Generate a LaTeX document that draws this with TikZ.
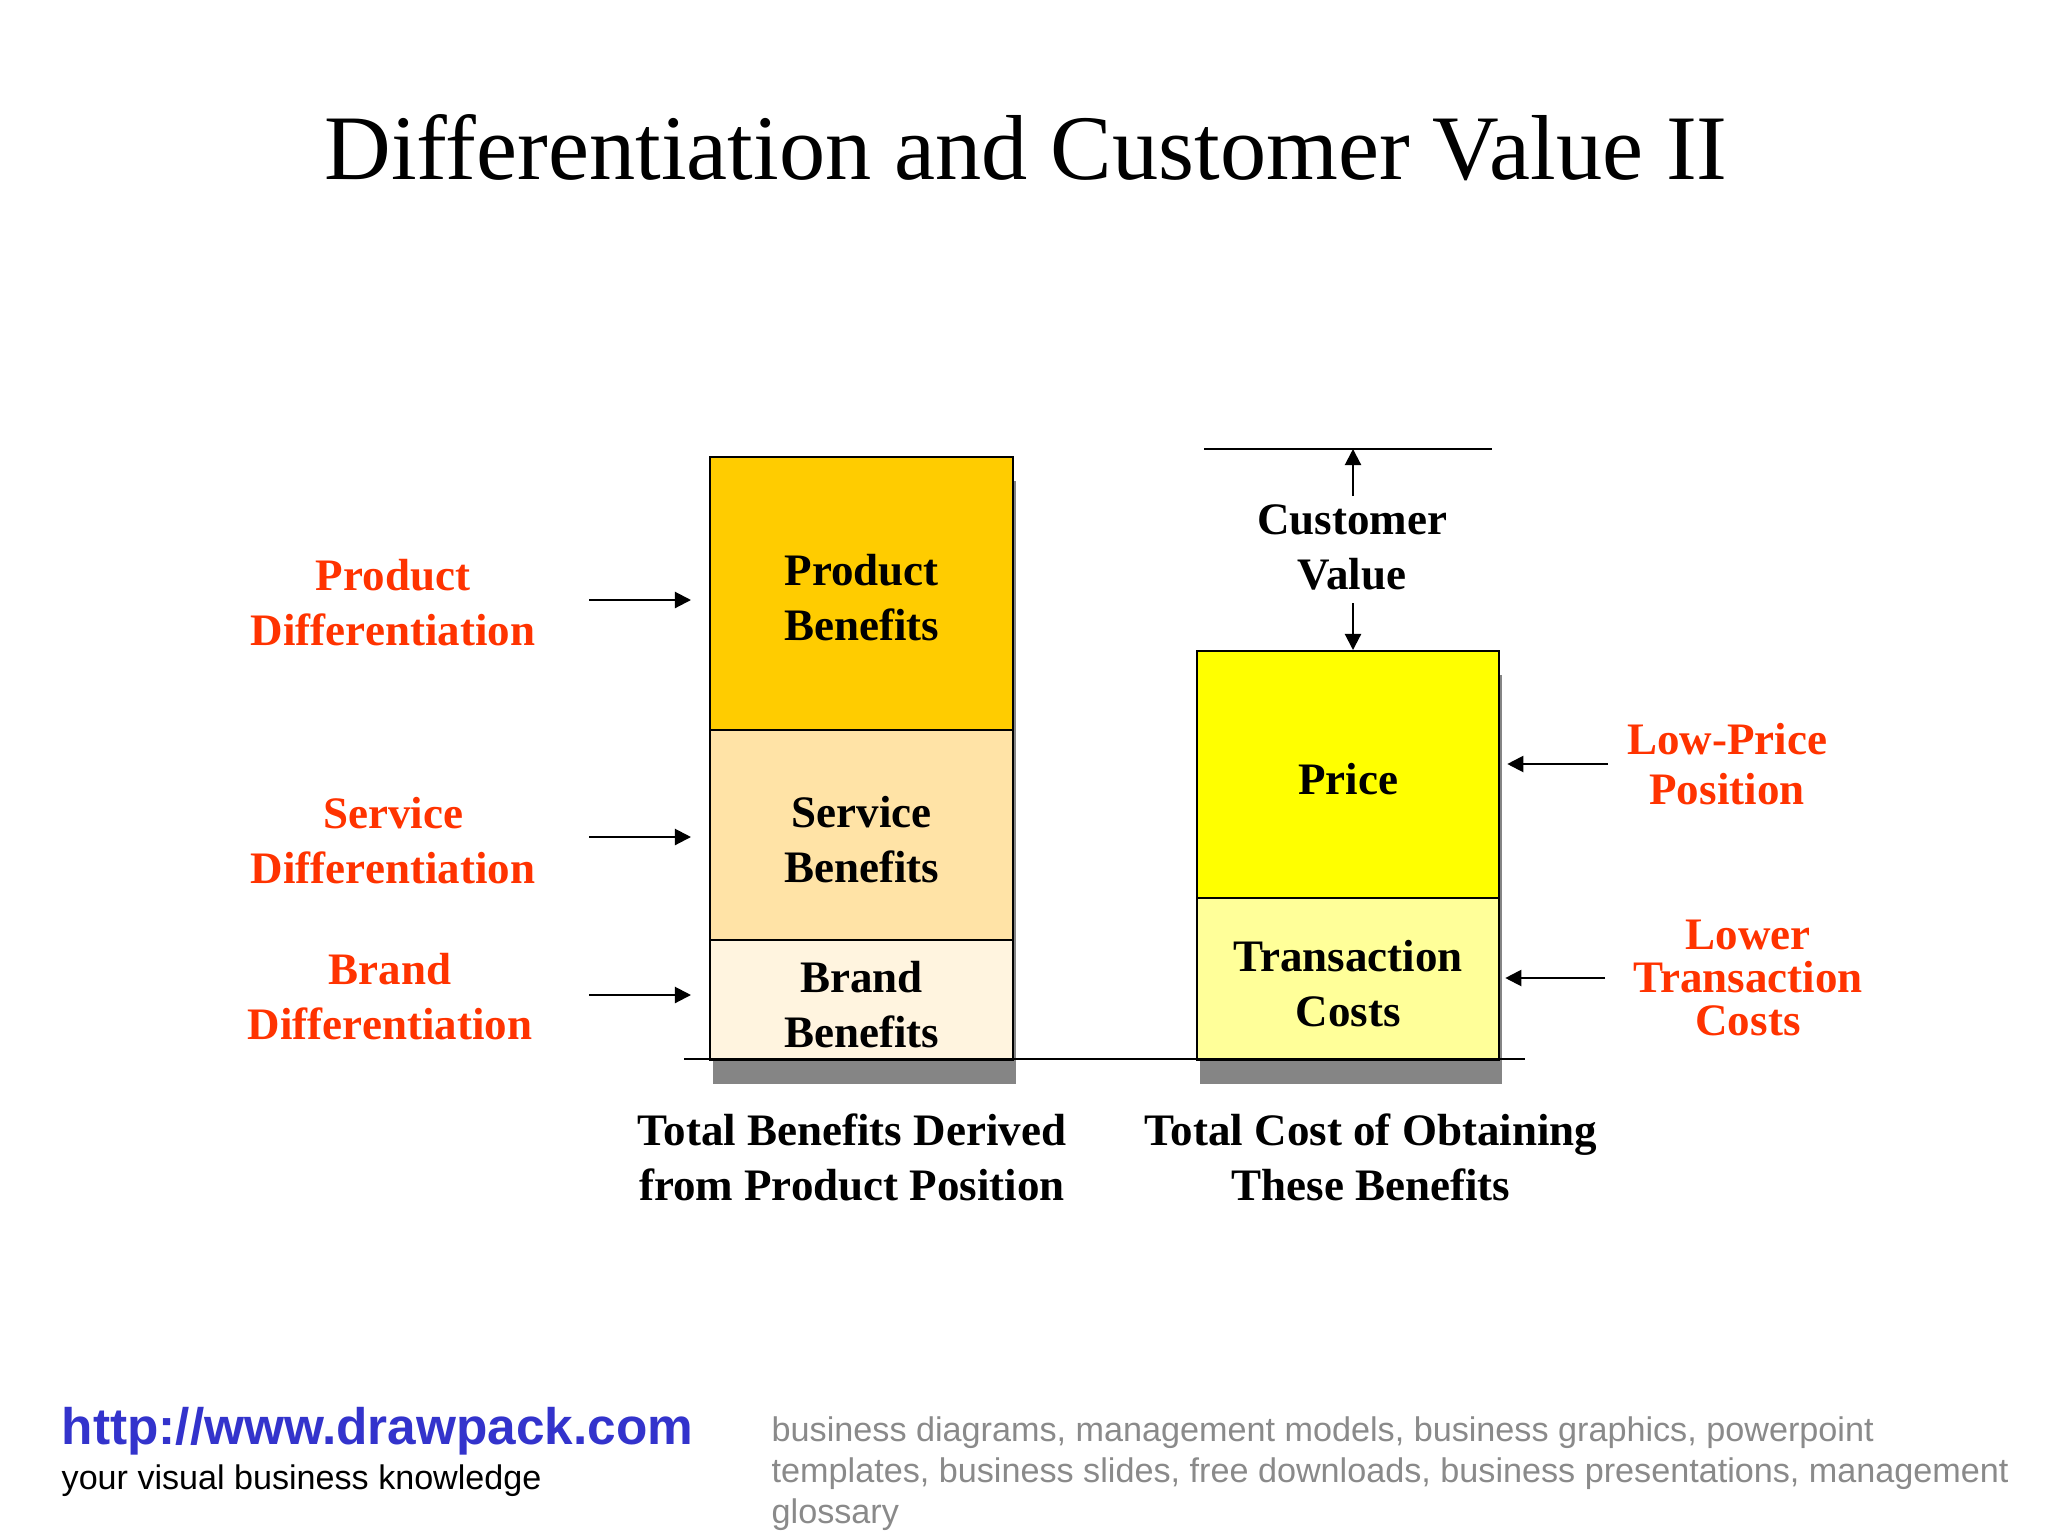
\documentclass[tikz,border=0pt]{standalone}
\usepackage{fontspec}
\setmainfont{Liberation Serif}
\newfontfamily\arialfont{Liberation Sans}
\usetikzlibrary{arrows.meta}
\definecolor{redlab}{HTML}{FF3300}
\definecolor{prodc}{HTML}{FFCC00}
\definecolor{servc}{HTML}{FFE3A6}
\definecolor{brandc}{HTML}{FFF4DF}
\definecolor{pricec}{HTML}{FFFF00}
\definecolor{transc}{HTML}{FFFF99}
\definecolor{shadowc}{HTML}{858585}
\definecolor{bluelink}{HTML}{3333CC}
\definecolor{greytext}{HTML}{8A8A8A}
\newcommand{\topstrut}{\rule{0pt}{11.2pt}}
\tikzset{
  boxnode/.style={draw=black, line width=0.6pt, anchor=north west, inner sep=0pt, align=center,
    font=\fontsize{12.8}{15.6}\selectfont\bfseries, text=black},
  redlabel/.style={align=center, text=redlab, font=\fontsize{12.8}{15.6}\selectfont\bfseries},
  blacklabel/.style={align=center, text=black, font=\fontsize{12.8}{15.6}\selectfont\bfseries},
  arr/.style={line width=0.6pt, -{Triangle[length=4.6pt,width=4.6pt]}},
  plainline/.style={line width=0.5pt},
  greyline/.style={anchor=base west, inner sep=0pt, text=greytext, font=\arialfont\fontsize{9.72}{11.7}\selectfont},
}
\begin{document}
\begin{tikzpicture}[x=0.01cm,y=-0.01cm]
\useasboundingbox[fill=white] (0,0) rectangle (2048,1536);

% title
\node[anchor=base, font=\fontsize{26.25}{30}\selectfont] (title) at (1026,179) {Differentiation and Customer Value II};

% shadows
\fill[shadowc] (713,481) rectangle (1016,1084);
\fill[shadowc] (1200,675) rectangle (1502,1084);

% left stack
\node[boxnode, fill=prodc, minimum width=3.03cm, minimum height=2.73cm] (prod) at (709,456) {\topstrut Product\\Benefits};
\node[boxnode, fill=servc, minimum width=3.03cm, minimum height=2.10cm] (serv) at (709,729) {\topstrut Service\\Benefits};
\node[boxnode, fill=brandc, minimum width=3.03cm, minimum height=1.20cm] (brand) at (709,939) {\topstrut Brand\\Benefits};

% right stack
\node[boxnode, fill=pricec, minimum width=3.02cm, minimum height=2.47cm] (price) at (1196,650) {\topstrut Price};
\node[boxnode, fill=transc, minimum width=3.02cm, minimum height=1.62cm] (trans) at (1196,897) {\topstrut Transaction\\Costs};

% base line
\coordinate (bl1) at (684,1059);
\coordinate (bl2) at (1525,1059);
\draw[plainline] (bl1) -- (bl2);

% customer value
\coordinate (tl1) at (1204,449);
\coordinate (tl2) at (1492,449);
\draw[plainline] (tl1) -- (tl2);
\node[blacklabel] (cv) at (1352,547) {Customer\\Value};
\coordinate (cvu) at (1353,496);
\coordinate (cvd) at (1353,603);
\draw[arr] (cvu) -- (cvu |- tl1);
\draw[arr] (cvd) -- (cvd |- price.north);

% left red labels
\node[redlabel] (pdiff) at (393,603) {Product\\Differentiation};
\node[redlabel] (sdiff) at (393,841) {Service\\Differentiation};
\node[redlabel] (bdiff) at (390,997) {Brand\\Differentiation};
\coordinate (a1) at (589,600);
\coordinate (a2) at (589,837);
\coordinate (a3) at (589,995);
\draw[arr, shorten >=0.18cm] (a1) -- (a1 -| prod.west);
\draw[arr, shorten >=0.18cm] (a2) -- (a2 -| serv.west);
\draw[arr, shorten >=0.18cm] (a3) -- (a3 -| brand.west);

% right red labels
\node[redlabel, font=\fontsize{12.8}{14.2}\selectfont\bfseries] (lpp) at (1727,764) {Low-Price\\Position};
\node[redlabel, font=\fontsize{12.8}{12.2}\selectfont\bfseries] (ltc) at (1748,978) {Lower\\Transaction\\Costs};
\coordinate (r1) at (1608,764);
\coordinate (r2) at (1605,978);
\draw[arr, shorten >=0.07cm] (r1) -- (r1 -| price.east);
\draw[arr, shorten >=0.05cm] (r2) -- (r2 -| trans.east);

% bottom labels
\node[blacklabel] (tb) at (852,1157) {Total Benefits Derived\\from Product Position};
\node[blacklabel] (tc) at (1371,1157) {Total Cost of Obtaining\\These Benefits};

% footer
\node[anchor=base west, inner sep=0pt, text=bluelink, font=\arialfont\bfseries\fontsize{14.6}{17}\selectfont] (url) at (61,1444) {http://www.drawpack.com};
\node[anchor=base west, inner sep=0pt, text=black, font=\arialfont\fontsize{9.7}{11.7}\selectfont] (slogan) at (61,1489) {your visual business knowledge};
\node[greyline] (kw1) at (771,1441) {business diagrams, management models, business graphics, powerpoint};
\node[greyline] (kw2) at (771,1482) {templates, business slides, free downloads, business presentations, management};
\node[greyline] (kw3) at (771,1523) {glossary};
\end{tikzpicture}
\end{document}
